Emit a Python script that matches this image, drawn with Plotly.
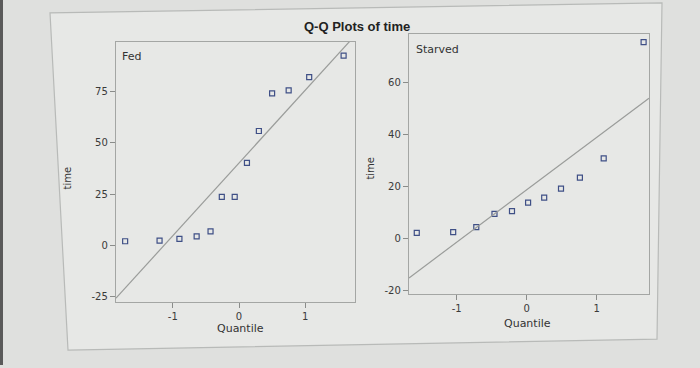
import plotly.graph_objects as go

# ---- data ----
fed_quantile = [-1.72, -1.20, -0.90, -0.64, -0.43, -0.26, -0.065, 0.12, 0.30, 0.50, 0.75, 1.06, 1.58]
fed_time = [2.0, 2.3, 3.2, 4.4, 6.8, 23.7, 23.7, 40.3, 55.8, 74.2, 75.6, 82.1, 92.6]
fed_line_intercept = 40.2
fed_line_slope = 35.5

starved_quantile = [-1.57, -1.05, -0.72, -0.46, -0.21, 0.02, 0.25, 0.49, 0.76, 1.10, 1.67]
starved_time = [2.2, 2.5, 4.4, 9.5, 10.5, 13.8, 15.7, 19.2, 23.4, 30.8, 75.4]
starved_line_intercept = 18.7
starved_line_slope = 20.1

fed_xticks = [-1, 0, 1]
fed_yticks = [-25, 0, 25, 50, 75]
starved_xticks = [-1, 0, 1]
starved_yticks = [-20, 0, 20, 40, 60]

W, H = 700, 368
fed_xrange = [-1.858, 1.752]
fed_yrange = [-27.4, 99.4]
st_xrange = [-1.681, 1.747]
st_yrange = [-21.1, 78.6]

def px(x): return x / W
def py(y): return 1 - y / H

marker = dict(symbol="square-open", size=5, color="#3f4f86", line=dict(width=1.2, color="#3f4f86"))
line_style = dict(color="#9a9c9a", width=1.2)

fig = go.Figure()
fig.add_trace(go.Scatter(x=fed_quantile, y=fed_time, mode="markers", marker=marker,
                         xaxis="x", yaxis="y", showlegend=False, cliponaxis=False))
fig.add_trace(go.Scatter(x=fed_xrange, y=[fed_line_intercept + fed_line_slope * v for v in fed_xrange],
                         mode="lines", line=line_style, xaxis="x", yaxis="y", showlegend=False))
fig.add_trace(go.Scatter(x=starved_quantile, y=starved_time, mode="markers", marker=marker,
                         xaxis="x2", yaxis="y2", showlegend=False, cliponaxis=False))
fig.add_trace(go.Scatter(x=st_xrange, y=[starved_line_intercept + starved_line_slope * v for v in st_xrange],
                         mode="lines", line=line_style, xaxis="x2", yaxis="y2", showlegend=False))

tickfont = dict(family="DejaVu Sans", size=10, color="#3a3a3a")
axcommon = dict(showgrid=False, zeroline=False, showline=True, mirror=True, linecolor="#a4a6a4",
                linewidth=1.3, ticks="outside", ticklen=5, tickcolor="#8a8c8a", tickfont=tickfont)

def ann(text, x, y, size=11, angle=0, xanchor="center", family="DejaVu Sans", color="#333"):
    return dict(text=text, x=px(x), y=py(y), xref="paper", yref="paper", xanchor=xanchor,
                yanchor="middle", textangle=angle, showarrow=False,
                font=dict(family=family, size=size, color=color))

fig.update_layout(
    width=W, height=H, margin=dict(l=0, r=0, t=0, b=0),
    paper_bgcolor="#dfe0de", plot_bgcolor="#e8e9e7",
    xaxis=dict(domain=[px(116), px(355)], range=fed_xrange, tickvals=fed_xticks,
               ticktext=[str(t) for t in fed_xticks], anchor="y", **axcommon),
    yaxis=dict(domain=[py(304), py(42)], range=fed_yrange, tickvals=fed_yticks,
               ticktext=[str(t) for t in fed_yticks], anchor="x", **axcommon),
    xaxis2=dict(domain=[px(409), px(649)], range=st_xrange, tickvals=starved_xticks,
                ticktext=[str(t) for t in starved_xticks], anchor="y2", **axcommon),
    yaxis2=dict(domain=[py(296), py(34)], range=st_yrange, tickvals=starved_yticks,
                ticktext=[str(t) for t in starved_yticks], anchor="x2", **axcommon),
    shapes=[
        dict(type="rect", xref="paper", yref="paper", x0=0, x1=px(3), y0=0, y1=1,
             fillcolor="#5a5a5a", line=dict(width=0), layer="below"),
        dict(type="path", xref="paper", yref="paper",
             path=f"M {px(50)} {py(13)} L {px(662)} {py(3)} L {px(657)} {py(342)} L {px(68)} {py(353)} Z",
             fillcolor="#e7e8e6", line=dict(color="#b8bab8", width=1.2), layer="below"),
    ],
    annotations=[
        ann("<b>Q-Q Plots of time</b>", 357, 27, size=13, family="Liberation Sans", color="#222"),
        ann("Fed", 120, 57, xanchor="left"),
        ann("Starved", 414, 50, xanchor="left"),
        ann("time", 68, 180, size=10, angle=-90),
        ann("time", 371, 170, size=10, angle=-90),
        ann("Quantile", 240, 331),
        ann("Quantile", 527, 326),
    ],
)

fig.write_html("out.html", config={"displayModeBar": False},
               post_script="document.body.style.margin='0';document.body.style.padding='0';")
